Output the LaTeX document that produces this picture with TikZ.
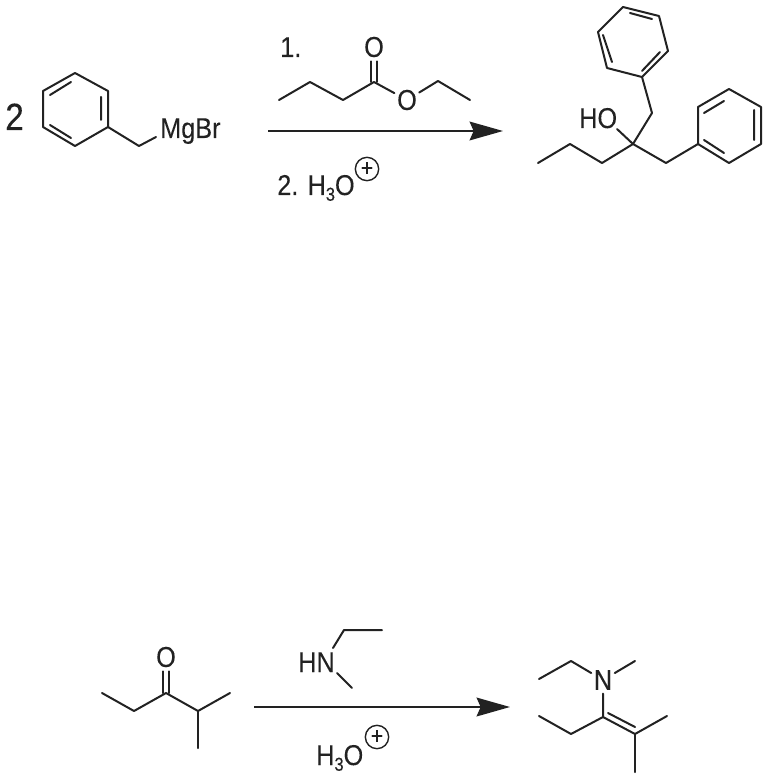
\documentclass[tikz,border=0pt]{standalone}
\usepackage{fontspec}
\setmainfont{Liberation Sans}[FakeBold=0.15,FakeStretch=0.88]
\usetikzlibrary{arrows.meta,calc}
\definecolor{ink}{HTML}{222222}
\newcommand{\subthree}{\raisebox{-0.2em}{\fontsize{14}{15}\selectfont 3}}
\tikzset{
  bond/.style={draw=ink,line width=1.5pt,line cap=round,line join=round},
  atom/.style={circle,inner sep=0pt,text=ink,font=\fontsize{21.5}{24}\selectfont},
  lbl/.style={inner sep=0pt,text=ink,anchor=base west,font=\fontsize{21.5}{24}\selectfont},
  bigl/.style={inner sep=0pt,text=ink,anchor=base west,font=\fontsize{28.5}{32}\selectfont},
  charge/.style={circle,draw=ink,line width=1.05pt,inner sep=0pt,minimum size=17.5pt,text=ink,font=\fontsize{18}{18}\selectfont},
  rxn/.style={draw=ink,line width=1.9pt,-{Stealth[length=25pt,width=14pt,inset=3pt]}}
}
\begin{document}
\begin{tikzpicture}[x=0.75pt,y=-0.75pt]
\useasboundingbox[fill=white] (0,0) rectangle (768,777);
% --- top left
\node[bigl] (two) at (5,130) {2};
\coordinate (a1) at (75,73);
\coordinate (a2) at (108,91);
\coordinate (a3) at (108,127);
\coordinate (a4) at (75,146);
\coordinate (a5) at (43,127);
\coordinate (a6) at (43,91);
\draw[bond] (a1)--(a2)--(a3)--(a4)--(a5)--(a6)--cycle;
\coordinate (ai1) at (50,95);  \coordinate (ai2) at (71,82);
\coordinate (ai3) at (101,97); \coordinate (ai4) at (101,120);
\coordinate (ai5) at (50,125); \coordinate (ai6) at (71,138);
\draw[bond] (ai1)--(ai2) (ai3)--(ai4) (ai5)--(ai6);
\coordinate (ach) at (139,146);
\coordinate (amg) at (156,137);
\draw[bond] (a3)--(ach)--(amg);
\node[lbl] (mgbr) at (160,138) {MgBr};
% --- top reagent
\node[lbl] (one) at (280,57) {1.};
\coordinate (e1) at (279,100);
\coordinate (e2) at (310,82);
\coordinate (e3) at (343,100);
\coordinate (e4) at (374,82);
\node[atom] (eO) at (407,100) {O};
\node[atom] (eOd) at (374,47) {O};
\coordinate (e5) at (438,81);
\coordinate (e6) at (470,100);
\draw[bond] (e1)--(e2)--(e3)--(e4)--(eO);
\draw[bond] (eO)--(e5)--(e6);
\draw[bond] ([xshift=-2.5pt]e4)--([xshift=-2.5pt]e4 |- eOd.south);
\draw[bond] ([xshift=2.5pt]e4)--([xshift=2.5pt]e4 |- eOd.south);
\coordinate (r1s) at (268,131);
\coordinate (r1e) at (503,131);
\draw[rxn] (r1s)--(r1e);
\node[lbl] (h3oa) at (277,195) {2. H\subthree O};
\node[charge] (pa) at (367,169) {+};
% --- top product
\coordinate (b1) at (623,7);
\coordinate (b2) at (659,16);
\coordinate (b3) at (668,51);
\coordinate (b4) at (642,77);
\coordinate (b5) at (607,68);
\coordinate (b6) at (598,32);
\draw[bond] (b1)--(b2)--(b3)--(b4)--(b5)--(b6)--cycle;
\coordinate (bi1) at (630,13); \coordinate (bi2) at (652,19);
\coordinate (bi3) at (660,52); \coordinate (bi4) at (642,71);
\coordinate (bi5) at (612,62); \coordinate (bi6) at (603,35);
\draw[bond] (bi1)--(bi2) (bi3)--(bi4) (bi5)--(bi6);
\coordinate (q) at (633,144);
\coordinate (bch) at (652,113);
\draw[bond] (b4)--(bch)--(q);
\node[lbl] (ho) at (579,128) {HO};
\coordinate (hoe) at (617,129);
\draw[bond] (hoe)--(q);
\coordinate (p1) at (602,163);
\coordinate (p2) at (570,144);
\coordinate (p3) at (538,163);
\draw[bond] (q)--(p1)--(p2)--(p3);
\coordinate (cch) at (666,163);
\coordinate (c1) at (698,144);
\coordinate (c2) at (698,107);
\coordinate (c3) at (729,89);
\coordinate (c4) at (761,107);
\coordinate (c5) at (761,144);
\coordinate (c6) at (729,163);
\draw[bond] (q)--(cch)--(c1);
\draw[bond] (c1)--(c2)--(c3)--(c4)--(c5)--(c6)--cycle;
\coordinate (ci1) at (704,113); \coordinate (ci2) at (724,101);
\coordinate (ci3) at (754,110); \coordinate (ci4) at (754,140);
\coordinate (ci5) at (704,140); \coordinate (ci6) at (724,153);
\draw[bond] (ci1)--(ci2) (ci3)--(ci4) (ci5)--(ci6);
% --- bottom left
\coordinate (k1) at (102,693);
\coordinate (k2) at (134,711);
\coordinate (k3) at (166,693);
\coordinate (k4) at (198,711);
\coordinate (k5) at (230,693);
\coordinate (k6) at (198,748);
\node[atom] (kO) at (166,657) {O};
\draw[bond] (k1)--(k2)--(k3)--(k4)--(k5);
\draw[bond] (k4)--(k6);
\draw[bond] ([xshift=-2.5pt]k3)--([xshift=-2.5pt]k3 |- kO.south);
\draw[bond] ([xshift=2.5pt]k3)--([xshift=2.5pt]k3 |- kO.south);
% --- bottom reagent
\node[lbl] (hn) at (298,672) {HN};
\coordinate (hn1) at (333,648);
\coordinate (hn2) at (344,630);
\coordinate (hn3) at (382,630);
\coordinate (hn4) at (337,673);
\coordinate (hn5) at (352,688);
\draw[bond] (hn1)--(hn2)--(hn3);
\draw[bond] (hn4)--(hn5);
\coordinate (r2s) at (254,707);
\coordinate (r2e) at (510,707);
\draw[rxn] (r2s)--(r2e);
\node[lbl] (h3ob) at (316,765) {H\subthree O};
\node[charge] (pb) at (377,737) {+};
% --- bottom product
\coordinate (m1) at (539,679);
\coordinate (m2) at (571,661);
\node[atom] (mN) at (603,680) {N};
\coordinate (m3) at (635,661);
\draw[bond] (m1)--(m2)--(mN)--(m3);
\coordinate (m4) at (603,717);
\coordinate (m5) at (539,716);
\coordinate (m6) at (571,734);
\coordinate (m7) at (635,734);
\coordinate (m8) at (667,716);
\coordinate (m9) at (635,772);
\coordinate (mi1) at (608,713);
\coordinate (mi2) at (635,727);
\draw[bond] (mN)--(m4)--(m6)--(m5);
\draw[bond] (m4)--(m7)--(m8);
\draw[bond] (m7)--(m9);
\draw[bond] (mi1)--(mi2);
\end{tikzpicture}
\end{document}
